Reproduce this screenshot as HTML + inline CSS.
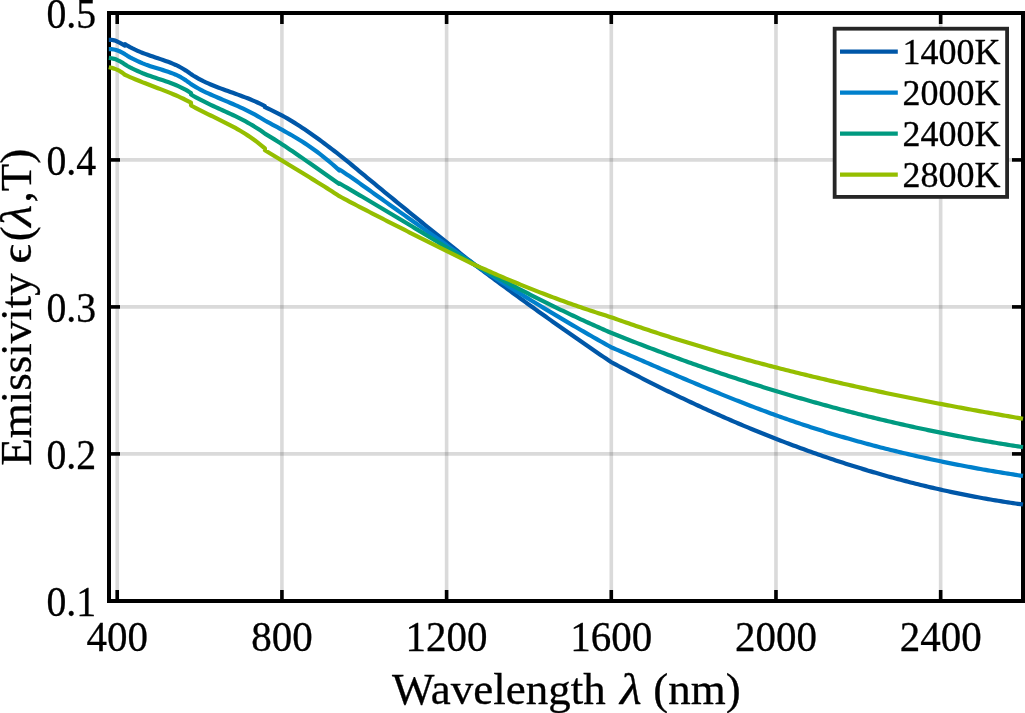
<!DOCTYPE html>
<html><head><meta charset="utf-8"><title>Emissivity</title>
<style>html,body{margin:0;padding:0;background:#fff;width:1025px;height:713px;overflow:hidden}svg{display:block}</style>
</head><body>
<svg width="1025" height="713" viewBox="0 0 1025 713">
<rect width="1025" height="713" fill="#fff"/>
<line x1="117.23" y1="15" x2="117.23" y2="599" stroke="#262626" stroke-opacity="0.17" stroke-width="3.6"/>
<line x1="281.92" y1="15" x2="281.92" y2="599" stroke="#262626" stroke-opacity="0.17" stroke-width="3.6"/>
<line x1="446.60" y1="15" x2="446.60" y2="599" stroke="#262626" stroke-opacity="0.17" stroke-width="3.6"/>
<line x1="611.29" y1="15" x2="611.29" y2="599" stroke="#262626" stroke-opacity="0.17" stroke-width="3.6"/>
<line x1="775.97" y1="15" x2="775.97" y2="599" stroke="#262626" stroke-opacity="0.17" stroke-width="3.6"/>
<line x1="940.66" y1="15" x2="940.66" y2="599" stroke="#262626" stroke-opacity="0.17" stroke-width="3.6"/>
<line x1="111" y1="453.90" x2="1021" y2="453.90" stroke="#262626" stroke-opacity="0.17" stroke-width="3.6"/>
<line x1="111" y1="306.90" x2="1021" y2="306.90" stroke="#262626" stroke-opacity="0.17" stroke-width="3.6"/>
<line x1="111" y1="159.90" x2="1021" y2="159.90" stroke="#262626" stroke-opacity="0.17" stroke-width="3.6"/>
<rect x="107" y="11" width="918" height="4" fill="#000"/>
<rect x="107" y="599" width="918" height="4" fill="#000"/>
<rect x="107" y="11" width="4" height="592" fill="#000"/>
<rect x="1021" y="11" width="4" height="592" fill="#000"/>
<line x1="117.23" y1="15" x2="117.23" y2="24" stroke="#000" stroke-width="3.6"/>
<line x1="117.23" y1="599" x2="117.23" y2="590" stroke="#000" stroke-width="3.6"/>
<line x1="281.92" y1="15" x2="281.92" y2="24" stroke="#000" stroke-width="3.6"/>
<line x1="281.92" y1="599" x2="281.92" y2="590" stroke="#000" stroke-width="3.6"/>
<line x1="446.60" y1="15" x2="446.60" y2="24" stroke="#000" stroke-width="3.6"/>
<line x1="446.60" y1="599" x2="446.60" y2="590" stroke="#000" stroke-width="3.6"/>
<line x1="611.29" y1="15" x2="611.29" y2="24" stroke="#000" stroke-width="3.6"/>
<line x1="611.29" y1="599" x2="611.29" y2="590" stroke="#000" stroke-width="3.6"/>
<line x1="775.97" y1="15" x2="775.97" y2="24" stroke="#000" stroke-width="3.6"/>
<line x1="775.97" y1="599" x2="775.97" y2="590" stroke="#000" stroke-width="3.6"/>
<line x1="940.66" y1="15" x2="940.66" y2="24" stroke="#000" stroke-width="3.6"/>
<line x1="940.66" y1="599" x2="940.66" y2="590" stroke="#000" stroke-width="3.6"/>
<line x1="111" y1="600.90" x2="120" y2="600.90" stroke="#000" stroke-width="3.6"/>
<line x1="1021" y1="600.90" x2="1012" y2="600.90" stroke="#000" stroke-width="3.6"/>
<line x1="111" y1="453.90" x2="120" y2="453.90" stroke="#000" stroke-width="3.6"/>
<line x1="1021" y1="453.90" x2="1012" y2="453.90" stroke="#000" stroke-width="3.6"/>
<line x1="111" y1="306.90" x2="120" y2="306.90" stroke="#000" stroke-width="3.6"/>
<line x1="1021" y1="306.90" x2="1012" y2="306.90" stroke="#000" stroke-width="3.6"/>
<line x1="111" y1="159.90" x2="120" y2="159.90" stroke="#000" stroke-width="3.6"/>
<line x1="1021" y1="159.90" x2="1012" y2="159.90" stroke="#000" stroke-width="3.6"/>
<line x1="111" y1="12.90" x2="120" y2="12.90" stroke="#000" stroke-width="3.6"/>
<line x1="1021" y1="12.90" x2="1012" y2="12.90" stroke="#000" stroke-width="3.6"/>
<path d="M108.80,39.82 L111.48,39.78 L114.17,40.32 L116.85,41.31 L119.53,42.62 L122.22,44.10 L124.90,45.63 L124.90,44.12 L127.44,45.67 L129.98,47.10 L132.53,48.43 L135.07,49.67 L137.61,50.82 L140.15,51.91 L142.70,52.93 L145.24,53.89 L147.78,54.81 L150.32,55.70 L152.87,56.57 L155.41,57.42 L157.95,58.27 L160.49,59.13 L163.03,60.00 L165.58,60.90 L168.12,61.84 L170.66,62.82 L173.20,63.86 L175.75,64.97 L178.29,66.15 L180.83,67.51 L183.37,69.00 L185.92,70.60 L188.46,72.31 L191.00,74.15 L191.00,74.15 L193.46,75.69 L195.93,77.16 L198.39,78.57 L200.85,79.92 L203.32,81.21 L205.78,82.34 L208.24,83.43 L210.71,84.48 L213.17,85.50 L215.63,86.48 L218.10,87.44 L220.56,88.37 L223.02,89.28 L225.49,90.18 L227.95,91.07 L230.41,91.96 L232.88,92.84 L235.34,93.72 L237.80,94.61 L240.27,95.51 L242.73,96.43 L245.19,97.36 L247.66,98.32 L250.12,99.30 L252.58,100.32 L255.05,101.37 L257.51,102.46 L259.97,103.59 L262.44,104.78 L264.90,106.01 L264.90,107.19 L267.38,108.27 L269.86,109.40 L272.34,110.57 L274.82,111.78 L277.30,113.03 L279.78,114.33 L282.26,115.66 L284.74,117.03 L287.22,118.44 L289.70,119.89 L292.18,121.37 L294.66,122.89 L297.14,124.44 L299.62,126.03 L302.10,127.64 L304.58,129.29 L307.06,130.97 L309.54,132.68 L312.02,134.42 L314.50,136.19 L316.98,137.98 L319.46,139.80 L321.94,141.65 L324.42,143.51 L326.90,145.41 L329.38,147.26 L331.86,149.13 L334.34,151.02 L336.82,152.93 L339.30,154.86 L339.30,154.86 L341.81,156.89 L344.33,158.91 L346.84,160.94 L349.36,162.97 L351.87,165.00 L354.39,167.09 L356.90,169.18 L359.42,171.27 L361.93,173.35 L364.45,175.43 L366.96,177.51 L369.48,179.59 L371.99,181.66 L374.51,183.74 L377.02,185.81 L379.54,187.88 L382.05,189.94 L384.57,192.01 L387.08,194.07 L389.60,196.13 L392.11,198.19 L394.63,200.25 L397.14,202.30 L399.66,204.36 L402.17,206.41 L404.69,208.46 L407.20,210.50 L409.71,212.55 L412.23,214.59 L414.74,216.63 L417.26,218.67 L419.77,220.71 L422.29,222.74 L424.80,224.77 L427.32,226.80 L429.83,228.83 L432.35,230.86 L434.86,232.88 L437.38,234.91 L439.89,236.93 L442.41,238.94 L444.92,240.96 L447.44,242.98 L449.95,244.99 L452.47,247.00 L454.98,249.01 L457.50,251.01 L460.01,253.02 L462.53,255.02 L465.04,257.02 L467.56,259.02 L470.07,261.01 L472.59,263.01 L475.10,265.00 L477.62,266.89 L480.13,268.77 L482.65,270.65 L485.17,272.53 L487.68,274.41 L490.20,276.28 L492.72,278.14 L495.23,280.01 L497.75,281.87 L500.27,283.73 L502.78,285.58 L505.30,287.43 L507.82,289.28 L510.33,291.12 L512.85,292.96 L515.37,294.80 L517.88,296.63 L520.40,298.46 L522.92,300.28 L525.43,302.11 L527.95,303.92 L530.47,305.74 L532.98,307.55 L535.50,309.36 L538.02,311.17 L540.53,312.97 L543.05,314.76 L545.57,316.56 L548.08,318.35 L550.60,320.14 L553.12,321.92 L555.63,323.70 L558.15,325.48 L560.67,327.25 L563.18,329.02 L565.70,330.79 L568.22,332.55 L570.73,334.31 L573.25,336.07 L575.77,337.82 L578.28,339.57 L580.80,341.32 L583.32,343.06 L585.83,344.80 L588.35,346.54 L590.87,348.27 L593.38,350.00 L595.90,351.72 L598.42,353.44 L600.93,355.16 L603.45,356.88 L605.97,358.59 L608.48,360.30 L611.00,362.00 L611.00,362.00 L613.50,363.34 L615.99,364.68 L618.49,366.01 L620.99,367.33 L623.48,368.65 L625.98,369.97 L628.48,371.28 L630.98,372.58 L633.47,373.88 L635.97,375.17 L638.47,376.46 L640.96,377.75 L643.46,379.02 L645.96,380.30 L648.45,381.56 L650.95,382.82 L653.45,384.08 L655.95,385.33 L658.44,386.57 L660.94,387.81 L663.44,389.05 L665.93,390.28 L668.43,391.50 L670.93,392.72 L673.42,393.93 L675.92,395.13 L678.42,396.34 L680.92,397.53 L683.41,398.72 L685.91,399.90 L688.41,401.08 L690.90,402.26 L693.40,403.42 L695.90,404.58 L698.39,405.74 L700.89,406.89 L703.39,408.04 L705.88,409.18 L708.38,410.31 L710.88,411.44 L713.38,412.56 L715.87,413.68 L718.37,414.79 L720.87,415.89 L723.36,416.99 L725.86,418.08 L728.36,419.17 L730.85,420.25 L733.35,421.33 L735.85,422.40 L738.35,423.47 L740.84,424.52 L743.34,425.58 L745.84,426.63 L748.33,427.67 L750.83,428.70 L753.33,429.73 L755.82,430.76 L758.32,431.78 L760.82,432.79 L763.32,433.79 L765.81,434.80 L768.31,435.79 L770.81,436.78 L773.30,437.76 L775.80,438.74 L778.30,439.71 L780.79,440.68 L783.29,441.63 L785.79,442.59 L788.28,443.53 L790.78,444.48 L793.28,445.41 L795.78,446.34 L798.27,447.26 L800.77,448.18 L803.27,449.09 L805.76,450.00 L808.26,450.90 L810.76,451.79 L813.25,452.68 L815.75,453.56 L818.25,454.43 L820.75,455.30 L823.24,456.16 L825.74,457.02 L828.24,457.87 L830.73,458.72 L833.23,459.55 L835.73,460.39 L838.22,461.21 L840.72,462.03 L843.22,462.84 L845.72,463.65 L848.21,464.45 L850.71,465.25 L853.21,466.04 L855.70,466.82 L858.20,467.59 L860.70,468.36 L863.19,469.13 L865.69,469.88 L868.19,470.64 L870.68,471.38 L873.18,472.12 L875.68,472.85 L878.18,473.58 L880.67,474.30 L883.17,475.01 L885.67,475.72 L888.16,476.42 L890.66,477.11 L893.16,477.80 L895.65,478.48 L898.15,479.15 L900.65,479.82 L903.15,480.48 L905.64,481.14 L908.14,481.79 L910.64,482.43 L913.13,483.07 L915.63,483.70 L918.13,484.32 L920.62,484.94 L923.12,485.55 L925.62,486.15 L928.12,486.75 L930.61,487.34 L933.11,487.92 L935.61,488.50 L938.10,489.07 L940.60,489.64 L943.10,490.19 L945.59,490.75 L948.09,491.29 L950.59,491.83 L953.08,492.36 L955.58,492.89 L958.08,493.40 L960.58,493.91 L963.07,494.42 L965.57,494.92 L968.07,495.41 L970.56,495.89 L973.06,496.37 L975.56,496.84 L978.05,497.31 L980.55,497.77 L983.05,498.22 L985.55,498.66 L988.04,499.10 L990.54,499.53 L993.04,499.96 L995.53,500.37 L998.03,500.78 L1000.53,501.19 L1003.02,501.58 L1005.52,501.98 L1008.02,502.36 L1010.52,502.74 L1013.01,503.10 L1015.51,503.47 L1018.01,503.82 L1020.50,504.17 L1023.00,504.51" fill="none" stroke="#0057a8" stroke-width="4.2" stroke-linejoin="round" stroke-linecap="butt"/>
<path d="M108.80,49.12 L111.48,49.10 L114.17,49.48 L116.85,50.19 L119.53,51.25 L122.22,52.60 L124.90,54.15 L124.90,54.15 L127.44,55.83 L129.98,57.35 L132.53,58.71 L135.07,59.92 L137.61,61.07 L140.15,62.27 L142.70,63.36 L145.24,64.36 L147.78,65.29 L150.32,66.16 L152.87,66.99 L155.41,67.78 L157.95,68.56 L160.49,69.34 L163.03,70.12 L165.58,70.93 L168.12,71.79 L170.66,72.69 L173.20,73.66 L175.75,74.71 L178.29,75.86 L180.83,77.21 L183.37,78.72 L185.92,80.37 L188.46,82.17 L191.00,84.14 L191.00,84.14 L193.46,85.63 L195.93,87.07 L198.39,88.47 L200.85,89.83 L203.32,91.13 L205.78,92.29 L208.24,93.43 L210.71,94.54 L213.17,95.62 L215.63,96.69 L218.10,97.75 L220.56,98.79 L223.02,99.83 L225.49,100.87 L227.95,101.92 L230.41,102.97 L232.88,104.03 L235.34,105.11 L237.80,106.20 L240.27,107.32 L242.73,108.46 L245.19,109.64 L247.66,110.85 L250.12,112.10 L252.58,113.40 L255.05,114.71 L257.51,116.08 L259.97,117.50 L262.44,118.98 L264.90,120.52 L264.90,120.52 L267.38,121.87 L269.86,123.21 L272.34,124.54 L274.82,125.87 L277.30,127.20 L279.78,128.57 L282.26,129.93 L284.74,131.31 L287.22,132.71 L289.70,134.12 L292.18,135.55 L294.66,137.00 L297.14,138.49 L299.62,140.00 L302.10,141.55 L304.58,143.13 L307.06,144.76 L309.54,146.43 L312.02,148.15 L314.50,149.92 L316.98,151.75 L319.46,153.63 L321.94,155.58 L324.42,157.59 L326.90,159.67 L329.38,161.69 L331.86,163.75 L334.34,165.90 L336.82,168.13 L339.30,170.45 L339.30,169.45 L341.81,171.10 L344.33,172.75 L346.84,174.40 L349.36,176.05 L351.87,177.73 L354.39,179.53 L356.90,181.33 L359.42,183.14 L361.93,184.94 L364.45,186.74 L366.96,188.54 L369.48,190.33 L371.99,192.13 L374.51,193.93 L377.02,195.72 L379.54,197.52 L382.05,199.31 L384.57,201.10 L387.08,202.89 L389.60,204.69 L392.11,206.47 L394.63,208.26 L397.14,210.05 L399.66,211.84 L402.17,213.62 L404.69,215.41 L407.20,217.19 L409.71,218.98 L412.23,220.76 L414.74,222.54 L417.26,224.32 L419.77,226.10 L422.29,227.88 L424.80,229.65 L427.32,231.43 L429.83,233.21 L432.35,234.98 L434.86,236.75 L437.38,238.53 L439.89,240.30 L442.41,242.07 L444.92,243.84 L447.44,245.61 L449.95,247.37 L452.47,249.14 L454.98,250.91 L457.50,252.67 L460.01,254.44 L462.53,256.20 L465.04,257.96 L467.56,259.72 L470.07,261.48 L472.59,263.24 L475.10,265.00 L477.62,266.63 L480.13,268.26 L482.65,269.88 L485.17,271.50 L487.68,273.12 L490.20,274.73 L492.72,276.33 L495.23,277.94 L497.75,279.54 L500.27,281.13 L502.78,282.72 L505.30,284.31 L507.82,285.89 L510.33,287.47 L512.85,289.04 L515.37,290.61 L517.88,292.18 L520.40,293.74 L522.92,295.30 L525.43,296.85 L527.95,298.40 L530.47,299.94 L532.98,301.48 L535.50,303.02 L538.02,304.55 L540.53,306.08 L543.05,307.61 L545.57,309.13 L548.08,310.64 L550.60,312.15 L553.12,313.66 L555.63,315.16 L558.15,316.66 L560.67,318.16 L563.18,319.65 L565.70,321.14 L568.22,322.62 L570.73,324.10 L573.25,325.57 L575.77,327.05 L578.28,328.51 L580.80,329.97 L583.32,331.43 L585.83,332.89 L588.35,334.34 L590.87,335.78 L593.38,337.22 L595.90,338.66 L598.42,340.09 L600.93,341.52 L603.45,342.95 L605.97,344.37 L608.48,345.79 L611.00,347.20 L611.00,347.20 L613.50,348.28 L615.99,349.35 L618.49,350.43 L620.99,351.51 L623.48,352.59 L625.98,353.68 L628.48,354.76 L630.98,355.84 L633.47,356.92 L635.97,358.01 L638.47,359.09 L640.96,360.17 L643.46,361.25 L645.96,362.34 L648.45,363.42 L650.95,364.50 L653.45,365.58 L655.95,366.66 L658.44,367.74 L660.94,368.82 L663.44,369.90 L665.93,370.97 L668.43,372.05 L670.93,373.12 L673.42,374.19 L675.92,375.26 L678.42,376.33 L680.92,377.39 L683.41,378.45 L685.91,379.52 L688.41,380.57 L690.90,381.63 L693.40,382.68 L695.90,383.73 L698.39,384.78 L700.89,385.83 L703.39,386.87 L705.88,387.91 L708.38,388.94 L710.88,389.98 L713.38,391.01 L715.87,392.03 L718.37,393.05 L720.87,394.07 L723.36,395.08 L725.86,396.09 L728.36,397.10 L730.85,398.10 L733.35,399.09 L735.85,400.08 L738.35,401.07 L740.84,402.05 L743.34,403.03 L745.84,404.00 L748.33,404.97 L750.83,405.93 L753.33,406.89 L755.82,407.84 L758.32,408.78 L760.82,409.72 L763.32,410.65 L765.81,411.58 L768.31,412.50 L770.81,413.41 L773.30,414.32 L775.80,415.22 L778.30,416.12 L780.79,417.01 L783.29,417.89 L785.79,418.76 L788.28,419.63 L790.78,420.49 L793.28,421.35 L795.78,422.20 L798.27,423.04 L800.77,423.87 L803.27,424.70 L805.76,425.53 L808.26,426.34 L810.76,427.15 L813.25,427.96 L815.75,428.76 L818.25,429.55 L820.75,430.33 L823.24,431.11 L825.74,431.89 L828.24,432.66 L830.73,433.42 L833.23,434.17 L835.73,434.92 L838.22,435.66 L840.72,436.40 L843.22,437.13 L845.72,437.86 L848.21,438.58 L850.71,439.29 L853.21,440.00 L855.70,440.70 L858.20,441.40 L860.70,442.09 L863.19,442.77 L865.69,443.45 L868.19,444.12 L870.68,444.79 L873.18,445.45 L875.68,446.11 L878.18,446.76 L880.67,447.41 L883.17,448.05 L885.67,448.68 L888.16,449.31 L890.66,449.93 L893.16,450.55 L895.65,451.16 L898.15,451.77 L900.65,452.37 L903.15,452.97 L905.64,453.56 L908.14,454.15 L910.64,454.73 L913.13,455.31 L915.63,455.88 L918.13,456.44 L920.62,457.00 L923.12,457.56 L925.62,458.11 L928.12,458.66 L930.61,459.20 L933.11,459.73 L935.61,460.26 L938.10,460.79 L940.60,461.31 L943.10,461.83 L945.59,462.34 L948.09,462.84 L950.59,463.35 L953.08,463.84 L955.58,464.34 L958.08,464.82 L960.58,465.31 L963.07,465.78 L965.57,466.26 L968.07,466.73 L970.56,467.19 L973.06,467.65 L975.56,468.11 L978.05,468.56 L980.55,469.01 L983.05,469.45 L985.55,469.89 L988.04,470.32 L990.54,470.75 L993.04,471.18 L995.53,471.60 L998.03,472.01 L1000.53,472.43 L1003.02,472.83 L1005.52,473.24 L1008.02,473.64 L1010.52,474.03 L1013.01,474.43 L1015.51,474.81 L1018.01,475.20 L1020.50,475.58 L1023.00,475.95" fill="none" stroke="#0080cc" stroke-width="4.2" stroke-linejoin="round" stroke-linecap="butt"/>
<path d="M108.80,57.90 L111.48,58.22 L114.17,58.86 L116.85,59.78 L119.53,61.04 L122.22,62.59 L124.90,64.42 L124.90,64.42 L127.44,65.96 L129.98,67.38 L132.53,68.67 L135.07,69.85 L137.61,70.98 L140.15,72.13 L142.70,73.21 L145.24,74.22 L147.78,75.18 L150.32,76.09 L152.87,76.96 L155.41,77.81 L157.95,78.65 L160.49,79.48 L163.03,80.32 L165.58,81.17 L168.12,82.06 L170.66,82.98 L173.20,83.96 L175.75,84.99 L178.29,86.09 L180.83,87.28 L183.37,88.56 L185.92,89.93 L188.46,91.43 L191.00,93.04 L191.00,94.50 L193.46,95.95 L195.93,97.34 L198.39,98.68 L200.85,99.98 L203.32,101.24 L205.78,102.47 L208.24,103.66 L210.71,104.83 L213.17,105.98 L215.63,107.12 L218.10,108.24 L220.56,109.36 L223.02,110.48 L225.49,111.60 L227.95,112.72 L230.41,113.86 L232.88,115.02 L235.34,116.20 L237.80,117.40 L240.27,118.63 L242.73,119.90 L245.19,121.21 L247.66,122.57 L250.12,123.97 L252.58,125.43 L255.05,126.93 L257.51,128.49 L259.97,130.12 L262.44,131.82 L264.90,133.60 L264.90,133.60 L267.38,135.08 L269.86,136.58 L272.34,138.10 L274.82,139.65 L277.30,141.22 L279.78,142.82 L282.26,144.44 L284.74,146.08 L287.22,147.73 L289.70,149.39 L292.18,151.07 L294.66,152.76 L297.14,154.46 L299.62,156.17 L302.10,157.89 L304.58,159.62 L307.06,161.35 L309.54,163.09 L312.02,164.83 L314.50,166.57 L316.98,168.32 L319.46,170.06 L321.94,171.81 L324.42,173.55 L326.90,175.29 L329.38,177.03 L331.86,178.76 L334.34,180.48 L336.82,182.20 L339.30,183.90 L339.30,183.26 L341.81,184.73 L344.33,186.20 L346.84,187.68 L349.36,189.15 L351.87,190.63 L354.39,192.11 L356.90,193.59 L359.42,195.07 L361.93,196.55 L364.45,198.04 L366.96,199.53 L369.48,201.02 L371.99,202.51 L374.51,204.00 L377.02,205.49 L379.54,206.99 L382.05,208.48 L384.57,209.98 L387.08,211.48 L389.60,212.98 L392.11,214.49 L394.63,215.99 L397.14,217.50 L399.66,219.01 L402.17,220.52 L404.69,222.03 L407.20,223.54 L409.71,225.05 L412.23,226.57 L414.74,228.09 L417.26,229.61 L419.77,231.13 L422.29,232.65 L424.80,234.18 L427.32,235.70 L429.83,237.23 L432.35,238.76 L434.86,240.29 L437.38,241.82 L439.89,243.35 L442.41,244.89 L444.92,246.43 L447.44,247.97 L449.95,249.51 L452.47,251.05 L454.98,252.59 L457.50,254.14 L460.01,255.68 L462.53,257.23 L465.04,258.78 L467.56,260.34 L470.07,261.89 L472.59,263.44 L475.10,265.00 L477.62,266.42 L480.13,267.83 L482.65,269.23 L485.17,270.63 L487.68,272.03 L490.20,273.41 L492.72,274.80 L495.23,276.17 L497.75,277.54 L500.27,278.90 L502.78,280.26 L505.30,281.61 L507.82,282.95 L510.33,284.29 L512.85,285.62 L515.37,286.95 L517.88,288.27 L520.40,289.58 L522.92,290.89 L525.43,292.19 L527.95,293.49 L530.47,294.78 L532.98,296.06 L535.50,297.34 L538.02,298.61 L540.53,299.87 L543.05,301.13 L545.57,302.38 L548.08,303.63 L550.60,304.87 L553.12,306.10 L555.63,307.33 L558.15,308.55 L560.67,309.77 L563.18,310.98 L565.70,312.18 L568.22,313.38 L570.73,314.57 L573.25,315.76 L575.77,316.94 L578.28,318.11 L580.80,319.28 L583.32,320.44 L585.83,321.59 L588.35,322.74 L590.87,323.88 L593.38,325.02 L595.90,326.15 L598.42,327.27 L600.93,328.39 L603.45,329.50 L605.97,330.61 L608.48,331.71 L611.00,332.80 L611.00,332.80 L613.50,333.80 L615.99,334.80 L618.49,335.79 L620.99,336.78 L623.48,337.77 L625.98,338.75 L628.48,339.73 L630.98,340.71 L633.47,341.68 L635.97,342.65 L638.47,343.62 L640.96,344.58 L643.46,345.54 L645.96,346.49 L648.45,347.44 L650.95,348.39 L653.45,349.33 L655.95,350.27 L658.44,351.21 L660.94,352.14 L663.44,353.07 L665.93,353.99 L668.43,354.91 L670.93,355.83 L673.42,356.74 L675.92,357.65 L678.42,358.56 L680.92,359.46 L683.41,360.36 L685.91,361.26 L688.41,362.15 L690.90,363.04 L693.40,363.92 L695.90,364.80 L698.39,365.68 L700.89,366.55 L703.39,367.42 L705.88,368.28 L708.38,369.14 L710.88,370.00 L713.38,370.86 L715.87,371.71 L718.37,372.55 L720.87,373.40 L723.36,374.24 L725.86,375.07 L728.36,375.90 L730.85,376.73 L733.35,377.55 L735.85,378.37 L738.35,379.19 L740.84,380.00 L743.34,380.81 L745.84,381.62 L748.33,382.42 L750.83,383.22 L753.33,384.01 L755.82,384.80 L758.32,385.59 L760.82,386.37 L763.32,387.15 L765.81,387.92 L768.31,388.70 L770.81,389.46 L773.30,390.23 L775.80,390.99 L778.30,391.74 L780.79,392.50 L783.29,393.24 L785.79,393.99 L788.28,394.73 L790.78,395.47 L793.28,396.20 L795.78,396.93 L798.27,397.66 L800.77,398.38 L803.27,399.10 L805.76,399.81 L808.26,400.52 L810.76,401.23 L813.25,401.93 L815.75,402.63 L818.25,403.32 L820.75,404.02 L823.24,404.70 L825.74,405.39 L828.24,406.07 L830.73,406.74 L833.23,407.41 L835.73,408.08 L838.22,408.75 L840.72,409.41 L843.22,410.07 L845.72,410.72 L848.21,411.37 L850.71,412.01 L853.21,412.65 L855.70,413.29 L858.20,413.93 L860.70,414.56 L863.19,415.18 L865.69,415.80 L868.19,416.42 L870.68,417.04 L873.18,417.65 L875.68,418.25 L878.18,418.86 L880.67,419.46 L883.17,420.05 L885.67,420.64 L888.16,421.23 L890.66,421.81 L893.16,422.39 L895.65,422.97 L898.15,423.54 L900.65,424.11 L903.15,424.67 L905.64,425.23 L908.14,425.79 L910.64,426.34 L913.13,426.89 L915.63,427.43 L918.13,427.97 L920.62,428.51 L923.12,429.04 L925.62,429.57 L928.12,430.10 L930.61,430.62 L933.11,431.13 L935.61,431.65 L938.10,432.16 L940.60,432.66 L943.10,433.16 L945.59,433.66 L948.09,434.16 L950.59,434.64 L953.08,435.13 L955.58,435.61 L958.08,436.09 L960.58,436.56 L963.07,437.03 L965.57,437.50 L968.07,437.96 L970.56,438.42 L973.06,438.87 L975.56,439.32 L978.05,439.77 L980.55,440.21 L983.05,440.65 L985.55,441.09 L988.04,441.52 L990.54,441.94 L993.04,442.37 L995.53,442.78 L998.03,443.20 L1000.53,443.61 L1003.02,444.02 L1005.52,444.42 L1008.02,444.82 L1010.52,445.21 L1013.01,445.60 L1015.51,445.99 L1018.01,446.37 L1020.50,446.75 L1023.00,447.13" fill="none" stroke="#009a80" stroke-width="4.2" stroke-linejoin="round" stroke-linecap="butt"/>
<path d="M108.80,67.20 L111.48,67.83 L114.17,68.62 L116.85,69.63 L119.53,70.94 L122.22,72.62 L124.90,74.73 L124.90,74.73 L127.44,75.91 L129.98,77.05 L132.53,78.14 L135.07,79.19 L137.61,80.23 L140.15,81.28 L142.70,82.32 L145.24,83.32 L147.78,84.31 L150.32,85.29 L152.87,86.25 L155.41,87.21 L157.95,88.18 L160.49,89.14 L163.03,90.12 L165.58,91.10 L168.12,92.11 L170.66,93.14 L173.20,94.19 L175.75,95.28 L178.29,96.40 L180.83,97.57 L183.37,98.77 L185.92,100.03 L188.46,101.34 L191.00,102.72 L191.00,105.34 L193.46,106.71 L195.93,108.04 L198.39,109.33 L200.85,110.60 L203.32,111.85 L205.78,113.08 L208.24,114.29 L210.71,115.50 L213.17,116.69 L215.63,117.89 L218.10,119.09 L220.56,120.30 L223.02,121.52 L225.49,122.76 L227.95,124.01 L230.41,125.30 L232.88,126.61 L235.34,127.96 L237.80,129.34 L240.27,130.77 L242.73,132.25 L245.19,133.78 L247.66,135.36 L250.12,137.01 L252.58,138.72 L255.05,140.51 L257.51,142.36 L259.97,144.30 L262.44,146.31 L264.90,148.42 L264.90,150.26 L267.38,151.75 L269.86,153.24 L272.34,154.73 L274.82,156.23 L277.30,157.72 L279.78,159.22 L282.26,160.71 L284.74,162.21 L287.22,163.71 L289.70,165.21 L292.18,166.72 L294.66,168.23 L297.14,169.73 L299.62,171.25 L302.10,172.76 L304.58,174.28 L307.06,175.80 L309.54,177.32 L312.02,178.85 L314.50,180.38 L316.98,181.92 L319.46,183.46 L321.94,185.00 L324.42,186.55 L326.90,188.10 L329.38,189.69 L331.86,191.30 L334.34,192.91 L336.82,194.52 L339.30,196.14 L339.30,196.14 L341.81,197.50 L344.33,198.85 L346.84,200.21 L349.36,201.56 L351.87,202.90 L354.39,204.21 L356.90,205.51 L359.42,206.81 L361.93,208.11 L364.45,209.41 L366.96,210.71 L369.48,212.00 L371.99,213.30 L374.51,214.59 L377.02,215.88 L379.54,217.17 L382.05,218.46 L384.57,219.75 L387.08,221.03 L389.60,222.31 L392.11,223.60 L394.63,224.88 L397.14,226.15 L399.66,227.43 L402.17,228.71 L404.69,229.98 L407.20,231.25 L409.71,232.52 L412.23,233.79 L414.74,235.06 L417.26,236.33 L419.77,237.59 L422.29,238.85 L424.80,240.11 L427.32,241.37 L429.83,242.63 L432.35,243.89 L434.86,245.14 L437.38,246.39 L439.89,247.65 L442.41,248.90 L444.92,250.14 L447.44,251.39 L449.95,252.64 L452.47,253.88 L454.98,255.12 L457.50,256.36 L460.01,257.60 L462.53,258.84 L465.04,260.07 L467.56,261.31 L470.07,262.54 L472.59,263.77 L475.10,265.00 L477.62,266.15 L480.13,267.29 L482.65,268.42 L485.17,269.54 L487.68,270.66 L490.20,271.78 L492.72,272.88 L495.23,273.98 L497.75,275.07 L500.27,276.16 L502.78,277.24 L505.30,278.31 L507.82,279.37 L510.33,280.43 L512.85,281.48 L515.37,282.53 L517.88,283.56 L520.40,284.59 L522.92,285.62 L525.43,286.64 L527.95,287.65 L530.47,288.65 L532.98,289.65 L535.50,290.64 L538.02,291.62 L540.53,292.60 L543.05,293.57 L545.57,294.53 L548.08,295.49 L550.60,296.44 L553.12,297.38 L555.63,298.32 L558.15,299.25 L560.67,300.17 L563.18,301.09 L565.70,301.99 L568.22,302.90 L570.73,303.79 L573.25,304.68 L575.77,305.56 L578.28,306.44 L580.80,307.31 L583.32,308.17 L585.83,309.02 L588.35,309.87 L590.87,310.71 L593.38,311.55 L595.90,312.38 L598.42,313.20 L600.93,314.01 L603.45,314.82 L605.97,315.62 L608.48,316.41 L611.00,317.20 L611.00,317.20 L613.50,318.09 L615.99,318.98 L618.49,319.86 L620.99,320.73 L623.48,321.61 L625.98,322.47 L628.48,323.34 L630.98,324.20 L633.47,325.05 L635.97,325.90 L638.47,326.75 L640.96,327.59 L643.46,328.43 L645.96,329.27 L648.45,330.10 L650.95,330.92 L653.45,331.74 L655.95,332.56 L658.44,333.38 L660.94,334.19 L663.44,334.99 L665.93,335.79 L668.43,336.59 L670.93,337.39 L673.42,338.18 L675.92,338.96 L678.42,339.74 L680.92,340.52 L683.41,341.30 L685.91,342.07 L688.41,342.83 L690.90,343.60 L693.40,344.36 L695.90,345.11 L698.39,345.86 L700.89,346.61 L703.39,347.35 L705.88,348.09 L708.38,348.83 L710.88,349.56 L713.38,350.29 L715.87,351.02 L718.37,351.74 L720.87,352.46 L723.36,353.18 L725.86,353.89 L728.36,354.60 L730.85,355.30 L733.35,356.00 L735.85,356.70 L738.35,357.39 L740.84,358.08 L743.34,358.77 L745.84,359.45 L748.33,360.13 L750.83,360.81 L753.33,361.49 L755.82,362.16 L758.32,362.82 L760.82,363.49 L763.32,364.15 L765.81,364.81 L768.31,365.46 L770.81,366.11 L773.30,366.76 L775.80,367.40 L778.30,368.04 L780.79,368.68 L783.29,369.32 L785.79,369.95 L788.28,370.58 L790.78,371.21 L793.28,371.83 L795.78,372.45 L798.27,373.07 L800.77,373.68 L803.27,374.29 L805.76,374.90 L808.26,375.51 L810.76,376.11 L813.25,376.71 L815.75,377.30 L818.25,377.90 L820.75,378.49 L823.24,379.08 L825.74,379.66 L828.24,380.25 L830.73,380.83 L833.23,381.40 L835.73,381.98 L838.22,382.55 L840.72,383.12 L843.22,383.68 L845.72,384.25 L848.21,384.81 L850.71,385.37 L853.21,385.92 L855.70,386.48 L858.20,387.03 L860.70,387.58 L863.19,388.12 L865.69,388.67 L868.19,389.21 L870.68,389.75 L873.18,390.28 L875.68,390.82 L878.18,391.35 L880.67,391.88 L883.17,392.40 L885.67,392.93 L888.16,393.45 L890.66,393.97 L893.16,394.49 L895.65,395.00 L898.15,395.52 L900.65,396.03 L903.15,396.54 L905.64,397.04 L908.14,397.55 L910.64,398.05 L913.13,398.55 L915.63,399.05 L918.13,399.54 L920.62,400.04 L923.12,400.53 L925.62,401.02 L928.12,401.51 L930.61,401.99 L933.11,402.48 L935.61,402.96 L938.10,403.44 L940.60,403.92 L943.10,404.39 L945.59,404.87 L948.09,405.34 L950.59,405.81 L953.08,406.28 L955.58,406.75 L958.08,407.21 L960.58,407.68 L963.07,408.14 L965.57,408.60 L968.07,409.06 L970.56,409.51 L973.06,409.97 L975.56,410.42 L978.05,410.87 L980.55,411.32 L983.05,411.77 L985.55,412.22 L988.04,412.66 L990.54,413.11 L993.04,413.55 L995.53,413.99 L998.03,414.43 L1000.53,414.87 L1003.02,415.31 L1005.52,415.74 L1008.02,416.18 L1010.52,416.61 L1013.01,417.04 L1015.51,417.47 L1018.01,417.90 L1020.50,418.33 L1023.00,418.75" fill="none" stroke="#95be00" stroke-width="4.2" stroke-linejoin="round" stroke-linecap="butt"/>
<text transform="translate(117.23,650.6) scale(1,1.005)" font-family="Liberation Serif, Times New Roman, serif" stroke="#000" stroke-width="0.3" font-size="41" text-anchor="middle">400</text>
<text transform="translate(281.92,650.6) scale(1,1.005)" font-family="Liberation Serif, Times New Roman, serif" stroke="#000" stroke-width="0.3" font-size="41" text-anchor="middle">800</text>
<text transform="translate(446.60,650.6) scale(1,1.005)" font-family="Liberation Serif, Times New Roman, serif" stroke="#000" stroke-width="0.3" font-size="41" text-anchor="middle">1200</text>
<text transform="translate(611.29,650.6) scale(1,1.005)" font-family="Liberation Serif, Times New Roman, serif" stroke="#000" stroke-width="0.3" font-size="41" text-anchor="middle">1600</text>
<text transform="translate(775.97,650.6) scale(1,1.005)" font-family="Liberation Serif, Times New Roman, serif" stroke="#000" stroke-width="0.3" font-size="41" text-anchor="middle">2000</text>
<text transform="translate(940.66,650.6) scale(1,1.005)" font-family="Liberation Serif, Times New Roman, serif" stroke="#000" stroke-width="0.3" font-size="41" text-anchor="middle">2400</text>
<text transform="translate(96.1,616.10) scale(0.97,1.005)" font-family="Liberation Serif, Times New Roman, serif" stroke="#000" stroke-width="0.3" font-size="41" text-anchor="end">0.1</text>
<text transform="translate(96.1,469.10) scale(0.97,1.005)" font-family="Liberation Serif, Times New Roman, serif" stroke="#000" stroke-width="0.3" font-size="41" text-anchor="end">0.2</text>
<text transform="translate(96.1,322.10) scale(0.97,1.005)" font-family="Liberation Serif, Times New Roman, serif" stroke="#000" stroke-width="0.3" font-size="41" text-anchor="end">0.3</text>
<text transform="translate(96.1,175.10) scale(0.97,1.005)" font-family="Liberation Serif, Times New Roman, serif" stroke="#000" stroke-width="0.3" font-size="41" text-anchor="end">0.4</text>
<text transform="translate(96.1,28.10) scale(0.97,1.005)" font-family="Liberation Serif, Times New Roman, serif" stroke="#000" stroke-width="0.3" font-size="41" text-anchor="end">0.5</text>
<g transform="translate(0,703.8) scale(1,1.005)">
<text x="392" y="0" font-family="Liberation Serif, Times New Roman, serif" stroke="#000" stroke-width="0.3" font-size="45">Wavelength</text>
<text transform="translate(620,0) scale(1.11,1)" font-family="Liberation Serif, Times New Roman, serif" stroke="#000" stroke-width="0.3" font-size="45" font-style="italic">λ</text>
<text x="653.3" y="0" font-family="Liberation Serif, Times New Roman, serif" stroke="#000" stroke-width="0.3" font-size="45">(nm)</text>
</g>
<g transform="translate(31.1,0) rotate(-90) scale(1,1.005)">
<text x="-465.8" y="0" font-family="Liberation Serif, Times New Roman, serif" stroke="#000" stroke-width="0.3" font-size="45">Emissivity</text>
<text transform="translate(-263.8,0) scale(1.08,1)" font-family="Liberation Serif, Times New Roman, serif" stroke="#000" stroke-width="0.3" font-size="45">ϵ</text>
<text x="-241.3" y="0" font-family="Liberation Serif, Times New Roman, serif" stroke="#000" stroke-width="0.3" font-size="45">(</text>
<text transform="translate(-226.8,0) scale(1.12,1)" font-family="Liberation Serif, Times New Roman, serif" stroke="#000" stroke-width="0.3" font-size="45" font-style="italic">λ</text>
<text x="-202.4" y="0" font-family="Liberation Serif, Times New Roman, serif" stroke="#000" stroke-width="0.3" font-size="45">,T)</text>
</g>
<rect x="834.65" y="28.7" width="172.45" height="168.2" fill="#fff" stroke="#262626" stroke-width="3.8"/>
<line x1="840" y1="51.60" x2="897.8" y2="51.60" stroke="#0057a8" stroke-width="4.3"/>
<text transform="translate(902.5,64.20) scale(1,1.005)" font-family="Liberation Serif, Times New Roman, serif" stroke="#000" stroke-width="0.3" font-size="36">1400K</text>
<line x1="840" y1="92.60" x2="897.8" y2="92.60" stroke="#0080cc" stroke-width="4.3"/>
<text transform="translate(902.5,105.20) scale(1,1.005)" font-family="Liberation Serif, Times New Roman, serif" stroke="#000" stroke-width="0.3" font-size="36">2000K</text>
<line x1="840" y1="133.60" x2="897.8" y2="133.60" stroke="#009a80" stroke-width="4.3"/>
<text transform="translate(902.5,146.20) scale(1,1.005)" font-family="Liberation Serif, Times New Roman, serif" stroke="#000" stroke-width="0.3" font-size="36">2400K</text>
<line x1="840" y1="174.60" x2="897.8" y2="174.60" stroke="#95be00" stroke-width="4.3"/>
<text transform="translate(902.5,187.20) scale(1,1.005)" font-family="Liberation Serif, Times New Roman, serif" stroke="#000" stroke-width="0.3" font-size="36">2800K</text>
</svg>
</body></html>
